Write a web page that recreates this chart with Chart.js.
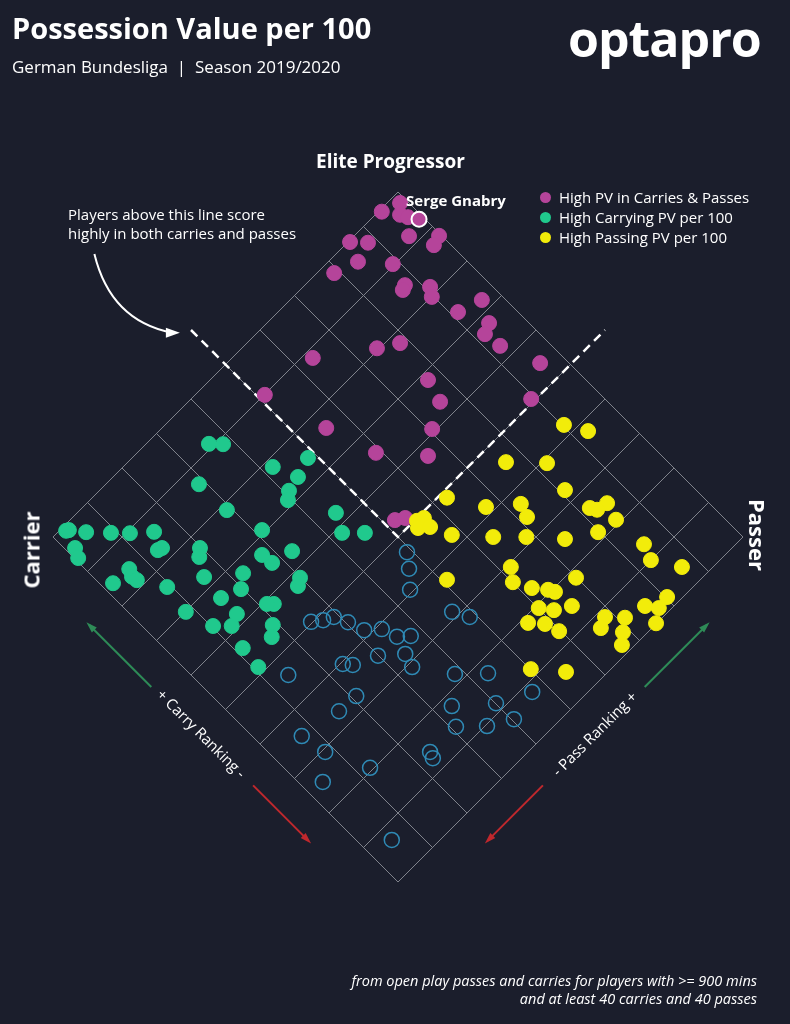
<!DOCTYPE html>
<html lang="en">
<head>
  <meta charset="UTF-8">
  <title>Possession Value per 100</title>
  <script src="https://cdn.jsdelivr.net/npm/chart.js"></script>
  <style>
    body { margin: 0; background: #1b1e2c; font-family: "Open Sans", sans-serif; color: #fff; }
    #wrap { position: relative; width: 790px; height: 1024px; overflow: hidden; }
    canvas { position: absolute; left: 0; top: 0; }
    .t { position: absolute; white-space: nowrap; }
    .legend div { display: flex; align-items: center; height: 20px; font-size: 15px; }
    .legend span.dot { width: 11px; height: 11px; border-radius: 50%; margin-right: 8px; display: inline-block; }
  </style>
</head>
<body>
<div id="wrap">
  <canvas id="pv" width="790" height="1024"></canvas>
  <div class="t" style="left:12px;top:8px;font-size:29px;font-weight:bold;">Possession Value per 100</div>
  <div class="t" style="left:12px;top:55px;font-size:17px;">German Bundesliga&nbsp; | &nbsp;Season 2019/2020</div>
  <div class="t" style="left:568px;top:4px;font-size:50px;font-weight:bold;letter-spacing:-1px;">optapro</div>
  <div class="t" style="left:316px;top:148px;font-size:19px;font-weight:bold;">Elite Progressor</div>
  <div class="t" style="left:68px;top:205px;font-size:15px;line-height:19px;">Players above this line score<br>highly in both carries and passes</div>
  <div class="t" style="left:-8px;top:535px;font-size:22px;font-weight:bold;transform:rotate(-90deg);">Carrier</div>
  <div class="t" style="left:722px;top:520px;font-size:22px;font-weight:bold;transform:rotate(90deg);">Passer</div>
  <div class="legend t" style="left:540px;top:187px;">
    <div><span class="dot" style="background:#b5449a"></span>High PV in Carries &amp; Passes</div>
    <div><span class="dot" style="background:#20c98d"></span>High Carrying PV per 100</div>
    <div><span class="dot" style="background:#f2ec0a"></span>High Passing PV per 100</div>
  </div>
  <div class="t" style="right:33px;top:972px;font-size:14.5px;font-style:italic;text-align:right;line-height:18px;">from open play passes and carries for players with &gt;= 900 mins<br>and at least 40 carries and 40 passes</div>
</div>
<script>
// ranks on a 0-10 scale: pass ranking and carry ranking
const gridSteps = [0,1,2,3,4,5,6,7,8,9,10];

const bothPass  = [9.48,9.87,9.70,9.78,9.52,9.96,9.75,8.58,8.83,8.41,8.88,7.90,8.75,8.65,9.09,8.97,9.13,9.65,9.42,9.20,9.25,9.58,7.84,7.43,6.36,7.71,7.57,8.93,5.13,5.54,7.06,5.90,6.61,5.20,5.38];
const bothCarry = [9.95,9.81,9.64,9.49,9.20,8.77,8.71,9.97,9.70,9.57,9.03,9.75,8.55,8.51,8.16,7.99,7.39,7.22,6.78,6.68,6.29,5.46,7.78,8.04,8.83,6.84,6.35,5.07,8.99,7.62,6.07,6.54,5.74,5.29,5.17];

const carryPass  = [3.61,3.81,4.20,2.88,4.84,4.42,4.09,3.94,2.91,3.13,4.45,4.25,4.58,0.28,0.33,0.55,0.16,0.06,0.90,1.17,1.54,1.33,1.42,1.97,1.83,0.64,0.57,0.20,0.59,0.93,1.61,2.23,1.55,1.97,2.80,2.77,2.23,2.13,2.84,2.99,0.84,1.03,1.30,1.55,1.91,1.72,1.14,1.09,3.26];
const carryCarry = [9.09,8.88,7.83,8.65,7.45,7.32,7.25,7.13,7.87,7.07,6.25,5.87,5.54,9.90,9.87,9.59,9.52,9.33,9.22,8.94,8.61,8.29,8.26,7.71,7.59,8.43,8.28,8.46,8.16,7.62,7.23,6.72,6.68,6.52,6.45,6.71,5.83,5.93,5.74,5.83,6.99,6.39,6.12,6.22,5.54,5.38,5.64,5.14,6.33];

const passPass  = [9.03,9.29,7.65,8.23,6.28,6.71,5.65,5.51,5.42,5.61,5.81,6.38,7.26,7.16,8.10,8.52,8.20,8.28,8.41,7.97,7.39,6.86,8.46,8.33,8.68,6.20,6.01,6.20,6.41,5.09,6.99,6.48,6.52,6.84,7.12,6.01,6.20,5.64,5.87,5.01,5.48,6.88,6.68,7.58,7.75,8.03,7.49,6.62,5.97];
const passCarry = [4.22,3.78,4.52,3.91,4.86,4.16,4.90,4.96,4.84,4.68,4.25,3.62,3.70,3.42,3.26,2.46,2.64,2.51,2.09,2.17,2.55,3.14,1.33,1.00,0.45,2.93,2.68,2.32,2.06,3.67,1.83,1.93,1.48,0.84,0.54,1.93,1.68,1.87,1.61,1.16,0.61,0.36,0.19,0.42,0.19,0.23,0.01,0.74,1.30];

const otherPass  = [4.91,4.70,4.41,2.51,2.71,2.91,3.04,3.16,3.43,3.54,3.75,4.70,4.88,3.41,3.32,2.36,2.49,2.99,1.41,2.09,1.62,3.84,4.33,3.33,4.01,4.04,4.70,3.55,3.09,0.72,0.83,2.35,2.30,1.25,0.36,0.52];
const otherCarry = [4.65,4.38,4.06,5.03,4.88,4.77,4.49,4.14,3.90,3.57,3.38,3.13,2.80,3.20,2.91,3.96,3.80,3.57,4.59,3.30,3.33,2.19,1.72,1.77,1.17,0.68,0.81,0.97,1.41,3.51,2.94,1.42,1.29,2.06,2.54,0.70];

const gnabry = { name: 'Serge Gnabry', pass: 9.91, carry: 9.30 };

// rotate rank pairs into the diamond: x = pass - carry, y = pass + carry
const toXY = (p, c) => ({ x: p - c, y: p + c });
const pts = (P, C) => P.map((p, i) => toXY(p, C[i]));

const gridColor = '#80838c';
const datasets = [];
for (const k of gridSteps) {
  datasets.push({ data: [toXY(k, 0), toXY(k, 10)], showLine: true, borderColor: gridColor, borderWidth: 1, pointRadius: 0, order: 10 });
  datasets.push({ data: [toXY(0, k), toXY(10, k)], showLine: true, borderColor: gridColor, borderWidth: 1, pointRadius: 0, order: 10 });
}
const dash = { showLine: true, borderColor: '#fff', borderWidth: 2.5, borderDash: [9, 6], pointRadius: 0, order: 5 };
datasets.push({ ...dash, data: [toXY(5, 11), toXY(5, 5), toXY(11, 5)] });

const dot = (color) => ({ backgroundColor: color, borderColor: color, borderWidth: 1, pointRadius: 7.5, order: 1 });
datasets.push({ ...dot('#2f8ab5'), data: pts(otherPass, otherCarry), backgroundColor: 'rgba(0,0,0,0)', borderWidth: 1.5 });
datasets.push({ ...dot('#20c98d'), data: pts(carryPass, carryCarry) });
datasets.push({ ...dot('#f2ec0a'), data: pts(passPass, passCarry) });
datasets.push({ ...dot('#b5449a'), data: pts(bothPass, bothCarry) });
datasets.push({ data: [toXY(gnabry.pass, gnabry.carry)], backgroundColor: '#b5449a', borderColor: '#fff', borderWidth: 2, pointRadius: 7.5, order: 0 });

const decor = {
  id: 'decor',
  afterDraw(chart) {
    const ctx = chart.ctx, sx = chart.scales.x, sy = chart.scales.y;
    const px = (p, c) => [sx.getPixelForValue(p - c), sy.getPixelForValue(p + c)];
    function arrow(a, b, color) {
      ctx.save();
      ctx.strokeStyle = color; ctx.fillStyle = color; ctx.lineWidth = 2;
      ctx.beginPath(); ctx.moveTo(a[0], a[1]); ctx.lineTo(b[0], b[1]); ctx.stroke();
      const ang = Math.atan2(b[1] - a[1], b[0] - a[0]);
      ctx.beginPath();
      ctx.moveTo(b[0] + 4 * Math.cos(ang), b[1] + 4 * Math.sin(ang));
      ctx.lineTo(b[0] - 8 * Math.cos(ang - 0.45), b[1] - 8 * Math.sin(ang - 0.45));
      ctx.lineTo(b[0] - 8 * Math.cos(ang + 0.45), b[1] - 8 * Math.sin(ang + 0.45));
      ctx.closePath(); ctx.fill();
      ctx.restore();
    }
    arrow(px(-0.75, 6.4), px(-0.75, 8.2), '#2e8b57');
    arrow(px(-0.7, 3.5), px(-0.7, 1.9), '#c0282d');
    arrow(px(6.4, -0.75), px(8.2, -0.75), '#2e8b57');
    arrow(px(3.5, -0.7), px(1.9, -0.7), '#c0282d');

    ctx.save();
    ctx.fillStyle = '#fff'; ctx.font = '15px "Open Sans"'; ctx.textAlign = 'center'; ctx.textBaseline = 'middle';
    let c = px(-0.72, 5.0);
    ctx.translate(c[0], c[1]); ctx.rotate(Math.PI / 4); ctx.fillText('+ Carry Ranking -', 0, 0);
    ctx.restore();
    ctx.save();
    ctx.fillStyle = '#fff'; ctx.font = '15px "Open Sans"'; ctx.textAlign = 'center'; ctx.textBaseline = 'middle';
    c = px(5.0, -0.72);
    ctx.translate(c[0], c[1]); ctx.rotate(-Math.PI / 4); ctx.fillText('- Pass Ranking +', 0, 0);
    ctx.restore();

    // curved pointer to the dashed line
    const a = px(4.7, 13.5), m = px(3.97, 12.3), b = px(4.77, 11.15);
    ctx.save();
    ctx.strokeStyle = '#fff'; ctx.fillStyle = '#fff'; ctx.lineWidth = 2;
    ctx.beginPath(); ctx.moveTo(a[0], a[1]); ctx.quadraticCurveTo(m[0], m[1], b[0] - 6, b[1]); ctx.stroke();
    ctx.beginPath(); ctx.moveTo(b[0] + 2, b[1]); ctx.lineTo(b[0] - 12, b[1] - 5); ctx.lineTo(b[0] - 12, b[1] + 5); ctx.closePath(); ctx.fill();
    ctx.restore();

    const g = px(gnabry.pass, gnabry.carry);
    ctx.save();
    ctx.fillStyle = '#fff'; ctx.font = 'bold 15px "Open Sans"'; ctx.textBaseline = 'middle';
    ctx.fillText(gnabry.name, g[0] - 13, g[1] - 18);
    ctx.restore();
  }
};

new Chart(document.getElementById('pv'), {
  type: 'scatter',
  data: { datasets },
  options: {
    responsive: false,
    animation: false,
    layout: { padding: { left: 53, right: 47, top: 192, bottom: 142 } },
    scales: {
      x: { display: false, min: -10, max: 10 },
      y: { display: false, min: 0, max: 20 }
    },
    plugins: { legend: { display: false }, tooltip: { enabled: false } },
    clip: false
  },
  plugins: [decor]
});
</script>
</body>
</html>
